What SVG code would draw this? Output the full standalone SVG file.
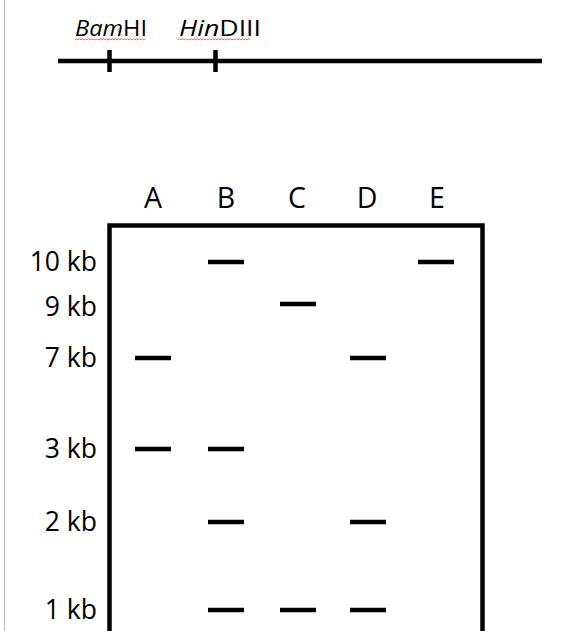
<svg xmlns="http://www.w3.org/2000/svg" width="567" height="631" viewBox="0 0 567 631">
<style>
.t{font-family:"Open Sans","Liberation Sans",sans-serif;fill:#000}
.lane{font-size:28.5px;text-anchor:middle}
.kb{font-size:26.5px;text-anchor:end}
.site{font-size:22px}
.ln{stroke:#000;stroke-width:4.5;fill:none}
.band{stroke:#000;stroke-width:4.5}
.sq{stroke:#e04040;stroke-width:0.8;fill:none}
</style>
<rect width="567" height="631" fill="#fff"/>
<line x1="4.5" y1="0" x2="4.5" y2="631" stroke="#bdbdbd" stroke-width="1"/>
<g id="map">
<line class="ln" x1="58" y1="61" x2="542" y2="61"/>
<line class="ln" x1="109.5" y1="50" x2="109.5" y2="72"/>
<line class="ln" x1="215.5" y1="50" x2="215.5" y2="72"/>
<text class="t site" x="75" y="36" textLength="72" lengthAdjust="spacingAndGlyphs"><tspan font-style="italic">Bam</tspan>HI</text>
<text class="t site" x="179" y="36" textLength="82" lengthAdjust="spacingAndGlyphs"><tspan font-style="italic">Hin</tspan>DIII</text>
<path class="sq" d="M75,40 l1.5,-1.2 l1.5,1.2 l1.5,-1.2 l1.5,1.2 l1.5,-1.2 l1.5,1.2 l1.5,-1.2 l1.5,1.2 l1.5,-1.2 l1.5,1.2 l1.5,-1.2 l1.5,1.2 l1.5,-1.2 l1.5,1.2 l1.5,-1.2 l1.5,1.2 l1.5,-1.2 l1.5,1.2 l1.5,-1.2 l1.5,1.2 l1.5,-1.2 l1.5,1.2 l1.5,-1.2 l1.5,1.2 l1.5,-1.2 l1.5,1.2 l1.5,-1.2 l1.5,1.2 l1.5,-1.2 l1.5,1.2 l1.5,-1.2 l1.5,1.2 l1.5,-1.2 l1.5,1.2 l1.5,-1.2 l1.5,1.2 l1.5,-1.2 l1.5,1.2 l1.5,-1.2 l1.5,1.2 l1.5,-1.2 l1.5,1.2 l1.5,-1.2 l1.5,1.2 l1.5,-1.2 l1.5,1.2 l1.5,-1.2"/>
<path class="sq" d="M178,40 l1.5,-1.2 l1.5,1.2 l1.5,-1.2 l1.5,1.2 l1.5,-1.2 l1.5,1.2 l1.5,-1.2 l1.5,1.2 l1.5,-1.2 l1.5,1.2 l1.5,-1.2 l1.5,1.2 l1.5,-1.2 l1.5,1.2 l1.5,-1.2 l1.5,1.2 l1.5,-1.2 l1.5,1.2 l1.5,-1.2 l1.5,1.2 l1.5,-1.2 l1.5,1.2 l1.5,-1.2 l1.5,1.2 l1.5,-1.2 l1.5,1.2 l1.5,-1.2 l1.5,1.2 l1.5,-1.2 l1.5,1.2 l1.5,-1.2 l1.5,1.2 l1.5,-1.2 l1.5,1.2 l1.5,-1.2 l1.5,1.2 l1.5,-1.2 l1.5,1.2 l1.5,-1.2 l1.5,1.2 l1.5,-1.2 l1.5,1.2 l1.5,-1.2 l1.5,1.2 l1.5,-1.2 l1.5,1.2 l1.5,-1.2 l1.5,1.2"/>
</g>
<g id="gel">
<path class="ln" d="M109.5,640 V225.5 H482.5 V640"/>
</g>
<g id="lanes">
<text class="t lane" x="153" y="208">A</text>
<text class="t lane" x="226" y="208">B</text>
<text class="t lane" x="297" y="208">C</text>
<text class="t lane" x="367" y="208">D</text>
<text class="t lane" x="437" y="208">E</text>
</g>
<g id="sizes">
<text class="t kb" x="97" y="271">10 kb</text>
<text class="t kb" x="97" y="316">9 kb</text>
<text class="t kb" x="97" y="367">7 kb</text>
<text class="t kb" x="97" y="458">3 kb</text>
<text class="t kb" x="97" y="531">2 kb</text>
<text class="t kb" x="97" y="619">1 kb</text>
</g>
<g id="bands">
<line class="band" x1="208" y1="262" x2="244" y2="262"/>
<line class="band" x1="418" y1="262" x2="454" y2="262"/>
<line class="band" x1="280" y1="304" x2="316" y2="304"/>
<line class="band" x1="135" y1="358" x2="171" y2="358"/>
<line class="band" x1="350" y1="358" x2="386" y2="358"/>
<line class="band" x1="135" y1="449" x2="171" y2="449"/>
<line class="band" x1="208" y1="449" x2="244" y2="449"/>
<line class="band" x1="208" y1="522" x2="244" y2="522"/>
<line class="band" x1="350" y1="522" x2="386" y2="522"/>
<line class="band" x1="208" y1="610" x2="244" y2="610"/>
<line class="band" x1="280" y1="610" x2="316" y2="610"/>
<line class="band" x1="350" y1="610" x2="386" y2="610"/>
</g>
</svg>
